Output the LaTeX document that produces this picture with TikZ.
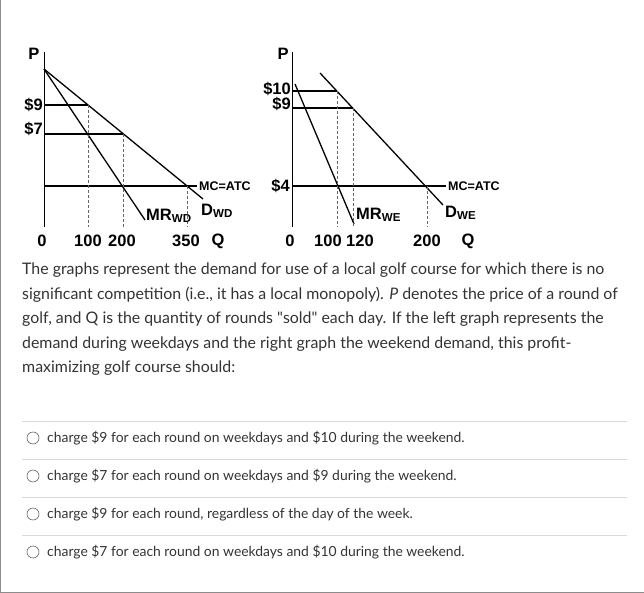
\documentclass[tikz,border=0pt]{standalone}
\usepackage{fontspec}
\setmainfont{Lato}
\newfontfamily\arial{Liberation Sans}
\begin{document}
\begin{tikzpicture}[x=1pt,y=-1pt,
  ax/.style={line width=1pt,black},
  cv/.style={line width=1.3pt,black},
  hl/.style={line width=1.1pt,black},
  dsh/.style={densely dashed,line width=0.4pt,gray!80!black},
  lab/.style={font=\arial\bfseries\fontsize{16.5}{16.5}\selectfont,inner sep=0pt},
  sm/.style={font=\arial\bfseries\fontsize{12.5}{12.5}\selectfont,inner sep=0pt},
  body/.style={font=\fontsize{15.9}{24.5}\selectfont,text=black!80,inner sep=0pt,anchor=north west,align=left},
  opt/.style={font=\fontsize{13.9}{13.9}\selectfont,text=black!80,inner sep=0pt,anchor=west},
  rule/.style={line width=0.6pt,black!15},
  radio/.style={circle,draw=black!60,line width=0.6pt,minimum size=12pt,inner sep=0pt}]
\useasboundingbox (0,0) rectangle (644,593);
\draw[black!45,line width=1pt] (0.5,0) -- (0.5,592.5) -- (644,592.5);
% left graph
\coordinate (LO) at (44,227); \coordinate (LT) at (44,52);
\draw[ax] (LT) -- (LO);
\node[lab] (LP) at (34,54) {P};
\coordinate (Dtop) at (44,69); \coordinate (Dend) at (203,199); \coordinate (MRend) at (145,220);
\draw[cv] (Dtop) -- (Dend);
\draw[cv] (Dtop) -- (MRend);
\coordinate (L9) at (44,105); \coordinate (L9e) at (88,105);
\coordinate (L7) at (44,134); \coordinate (L7e) at (123,134);
\coordinate (LMC) at (44,186); \coordinate (LMCe) at (197,186);
\draw[hl] (L9) -- (L9e); \draw[hl] (L7) -- (L7e);
\draw[hl] (LMC) -- (LMCe);
\node[lab,anchor=east] (l9) at (43,105) {\$9};
\node[lab,anchor=east] (l7) at (43,129) {\$7};
\node[sm,anchor=west] (lmc) at (199,186) {MC=ATC};
\coordinate (Lb1) at (88,227); \coordinate (Lb2) at (123,227); \coordinate (Lb3) at (187,227); \coordinate (Lm3) at (187,186);
\draw[dsh] (L9e) -- (Lb1); \draw[dsh] (L7e) -- (Lb2); \draw[dsh] (Lm3) -- (Lb3);
\node[lab] (lz) at (42,241) {0};
\node[lab] (l100) at (88,241) {100};
\node[lab] (l200) at (122,241) {200};
\node[lab] (l350) at (186,241) {350};
\node[lab] (lq) at (218,241) {Q};
\node[lab,anchor=west] (lmr) at (146,216) {MR\textsubscript{WD}};
\node[lab,anchor=west] (ld) at (201,211) {D\textsubscript{WD}};
% right graph
\coordinate (RO) at (292,227); \coordinate (RT) at (292,52);
\draw[ax] (RT) -- (RO);
\node[lab] (RP) at (283,54) {P};
\coordinate (RDt) at (320,73); \coordinate (RDe) at (443,205);
\coordinate (RMt) at (295,84); \coordinate (RMe) at (354,224);
\draw[cv] (RDt) -- (RDe); \draw[cv] (RMt) -- (RMe);
\coordinate (R10) at (292,91); \coordinate (R10e) at (337,91);
\coordinate (R9) at (292,108); \coordinate (R9e) at (353,108);
\coordinate (R4) at (292,186); \coordinate (R4e) at (446,186);
\draw[hl] (R10) -- (R10e); \draw[hl] (R9) -- (R9e); \draw[hl] (R4) -- (R4e);
\node[lab,anchor=east] (r10) at (291,89) {\$10};
\node[lab,anchor=east] (r9) at (291,104) {\$9};
\node[lab,anchor=east] (r4) at (290,186) {\$4};
\node[sm,anchor=west] (rmc) at (448,186) {MC=ATC};
\coordinate (Rb1) at (337,227); \coordinate (Rb2) at (353,227); \coordinate (Rb3) at (427,227); \coordinate (Rm3) at (427,186);
\draw[dsh] (R10e) -- (Rb1); \draw[dsh] (R9e) -- (Rb2); \draw[dsh] (Rm3) -- (Rb3);
\node[lab] (rz) at (290,241) {0};
\node[lab] (r100) at (328,241) {100};
\node[lab] (r120) at (360,241) {120};
\node[lab] (r200) at (427,241) {200};
\node[lab] (rq) at (468,241) {Q};
\node[lab,anchor=west] (rmr) at (356,215) {MR\textsubscript{WE}};
\node[lab,anchor=west] (rd) at (445,213) {D\textsubscript{WE}};
% text
\node[body] (txt) at (22,263) {The graphs represent the demand for use of a local golf course for which there is no\\
significant competition (i.e., it has a local monopoly). \textit{P} denotes the price of a round of\\
golf, and Q is the quantity of rounds \textquotedbl sold\textquotedbl{} each day. If the left graph represents the\\
demand during weekdays and the right graph the weekend demand, this profit-\\
maximizing golf course should:};
\coordinate (h1a) at (22,421); \coordinate (h1b) at (627,421);
\coordinate (h2a) at (22,459); \coordinate (h2b) at (627,459);
\coordinate (h3a) at (22,497); \coordinate (h3b) at (627,497);
\coordinate (h4a) at (22,535); \coordinate (h4b) at (627,535);
\draw[rule] (h1a) -- (h1b); \draw[rule] (h2a) -- (h2b);
\draw[rule] (h3a) -- (h3b); \draw[rule] (h4a) -- (h4b);
\node[radio] (c1) at (33,438) {}; \node[opt] (o1) at (47,438) {charge \$9 for each round on weekdays and \$10 during the weekend.};
\node[radio] (c2) at (33,476) {}; \node[opt] (o2) at (47,476) {charge \$7 for each round on weekdays and \$9 during the weekend.};
\node[radio] (c3) at (33,514) {}; \node[opt] (o3) at (47,514) {charge \$9 for each round, regardless of the day of the week.};
\node[radio] (c4) at (33,552) {}; \node[opt] (o4) at (47,552) {charge \$7 for each round on weekdays and \$10 during the weekend.};
\end{tikzpicture}
\end{document}
